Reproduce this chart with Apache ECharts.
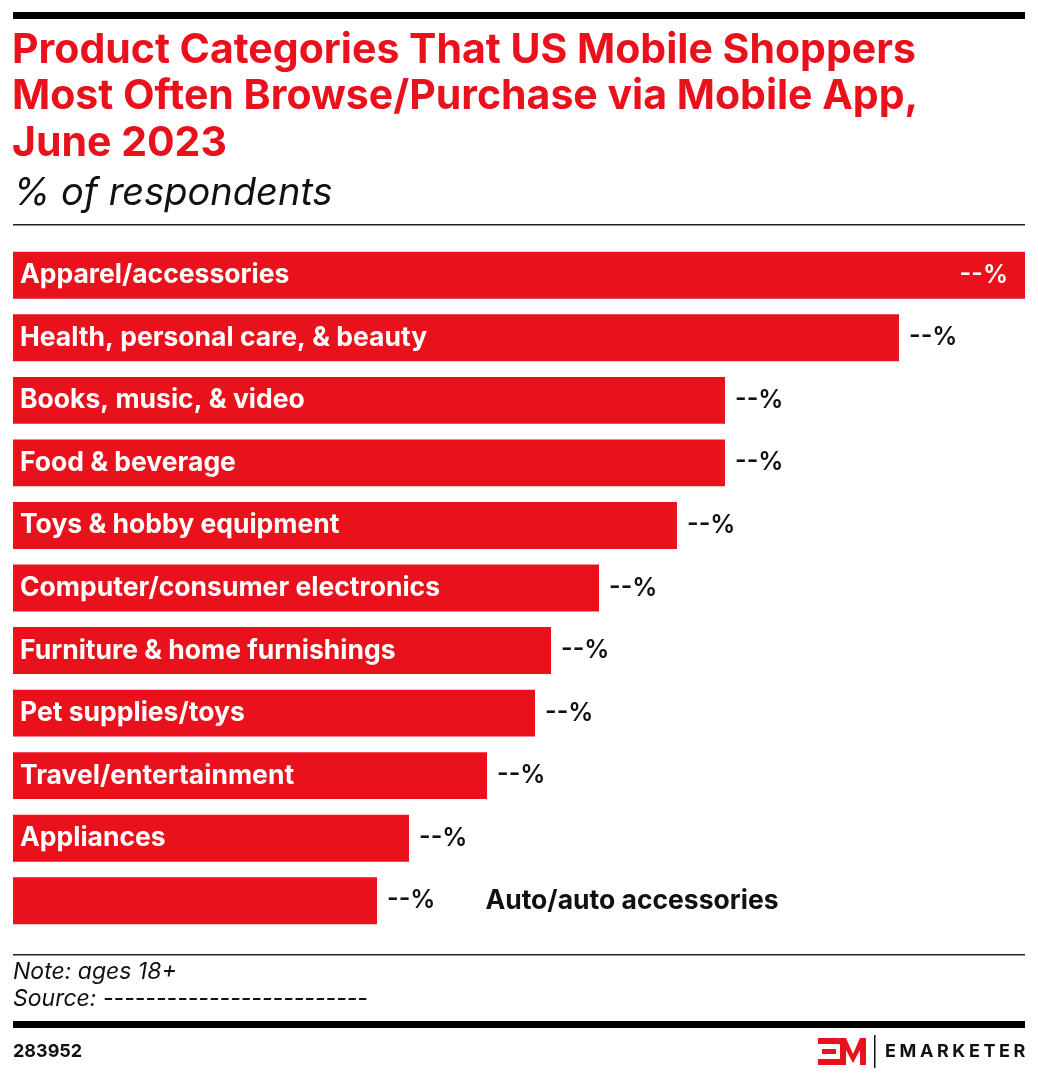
<!DOCTYPE html>
<html>
<head>
<meta charset="utf-8">
<script src="https://cdn.jsdelivr.net/npm/echarts@6/dist/echarts.min.js"></script>
<style>
html,body{margin:0;padding:0;background:#fff;}
#chart{width:1038px;height:1082px;}
</style>
</head>
<body>
<div id="chart"></div>
<script>
var categories = [
  'Apparel/accessories',
  'Health, personal care, & beauty',
  'Books, music, & video',
  'Food & beverage',
  'Toys & hobby equipment',
  'Computer/consumer electronics',
  'Furniture & home furnishings',
  'Pet supplies/toys',
  'Travel/entertainment',
  'Appliances',
  'Auto/auto accessories'
];
var values = [50.6, 44.3, 35.6, 35.6, 33.2, 29.3, 26.9, 26.1, 23.7, 19.8, 18.2];
var valueLabels = ['--%', '--%', '--%', '--%', '--%', '--%', '--%', '--%', '--%', '--%', '--%'];
var titleLines = [
  'Product Categories That US Mobile Shoppers',
  'Most Often Browse/Purchase via Mobile App,',
  'June 2023'
];
var subtitle = '% of respondents';
var noteText = 'Note: ages 18+';
var sourceText = 'Source: -------------------------';
var chartId = '283952';
var brand = 'EMARKETER';

var RED = '#e8111c';
var FONT = 'Inter, "Noto Sans", Roboto, sans-serif';
var chart = echarts.init(document.getElementById('chart'), null, {renderer: 'canvas'});

var nameData = values.map(function (v, i) {
  var d = {value: v};
  if (i === values.length - 1) d.label = {show: false};
  return d;
});
var valData = values.map(function (v, i) {
  var d = {value: v};
  if (i === 0) {
    d.label = {position: 'insideRight', distance: 17, color: '#fff'};
  }
  if (i === values.length - 1) {
    d.label = {
      formatter: function () { return '{v|' + valueLabels[i] + '}{g|}{n|' + categories[i] + '}'; }
    };
  }
  return d;
});

var graphics = [
  {type: 'rect', shape: {x: 13, y: 12, width: 1012, height: 7}, style: {fill: '#000'}},
  {type: 'rect', shape: {x: 13, y: 224, width: 1012, height: 1.5}, style: {fill: '#222'}},
  {type: 'rect', shape: {x: 13, y: 954, width: 1012, height: 1.5}, style: {fill: '#222'}},
  {type: 'rect', shape: {x: 13, y: 1021, width: 1012, height: 7}, style: {fill: '#000'}},
  {type: 'text', left: 13, top: 961, style: {text: noteText, font: 'italic 23px ' + FONT, fill: '#111'}},
  {type: 'text', left: 13, top: 988, style: {text: sourceText, font: 'italic 23px ' + FONT, fill: '#111'}},
  {type: 'text', left: 13, top: 1043, style: {text: chartId, font: 'bold 18px ' + FONT, fill: '#111'}},
  // logo EM
  {type: 'polygon', shape: {points: [[818,1038],[838,1038],[840,1044],[818,1044]]}, style: {fill: RED}},
  {type: 'polygon', shape: {points: [[822,1049],[836,1049],[836,1054],[822,1054]]}, style: {fill: RED}},
  {type: 'polygon', shape: {points: [[818,1059],[840,1059],[840,1065],[818,1065]]}, style: {fill: RED}},
  {type: 'polygon', shape: {points: [[838,1038],[846,1038],[853,1054],[860,1038],[866,1038],[866,1065],[860,1065],[860,1050],[853,1063],[846,1050],[846,1065],[840,1065],[840,1046]]}, style: {fill: RED}},
  {type: 'rect', shape: {x: 874, y: 1035, width: 1.5, height: 33}, style: {fill: '#111'}}
];
// brand text, letter-spaced
(function () {
  var c = document.createElement('canvas').getContext('2d');
  var f = 'bold 18px ' + FONT;
  c.font = f;
  var x = 885;
  for (var k = 0; k < brand.length; k++) {
    graphics.push({type: 'text', x: x, y: 1043, style: {text: brand[k], font: f, fill: '#111'}});
    x += c.measureText(brand[k]).width + 3.6;
  }
})();
titleLines.forEach(function (t, i) {
  graphics.push({type: 'text', left: 12, top: 30 + i * 46.5,
    style: {text: t, font: 'bold 41px ' + FONT, fill: RED}});
});
graphics.push({type: 'text', left: 13, top: 175, style: {text: subtitle, font: 'italic 38px ' + FONT, fill: '#111'}});

chart.setOption({
  animation: false,
  backgroundColor: '#fff',
  grid: {left: 13, right: 13, top: 244, height: 688, containLabel: false},
  xAxis: {type: 'value', min: 0, max: values[0], show: false},
  yAxis: {type: 'category', data: categories, inverse: true, show: false},
  series: [
    {
      type: 'bar', data: nameData, barCategoryGap: '25%',
      itemStyle: {color: RED},
      label: {show: true, position: 'insideLeft', distance: 7,
        formatter: function (p) { return categories[p.dataIndex]; },
        color: '#fff', fontFamily: FONT, fontWeight: 700, fontSize: 26.5}
    },
    {
      type: 'bar', data: valData, barCategoryGap: '25%', barGap: '-100%',
      itemStyle: {color: 'rgba(0,0,0,0)'}, silent: true,
      label: {show: true, position: 'right', distance: 10,
        formatter: function (p) { return valueLabels[p.dataIndex]; },
        color: '#111', fontFamily: FONT, fontWeight: 600, fontSize: 25,
        rich: {
          v: {color: '#111', fontFamily: FONT, fontWeight: 600, fontSize: 25},
          g: {width: 50},
          n: {color: '#111', fontFamily: FONT, fontWeight: 700, fontSize: 26.5}
        }}
    }
  ],
  graphic: graphics
});
</script>
</body>
</html>
